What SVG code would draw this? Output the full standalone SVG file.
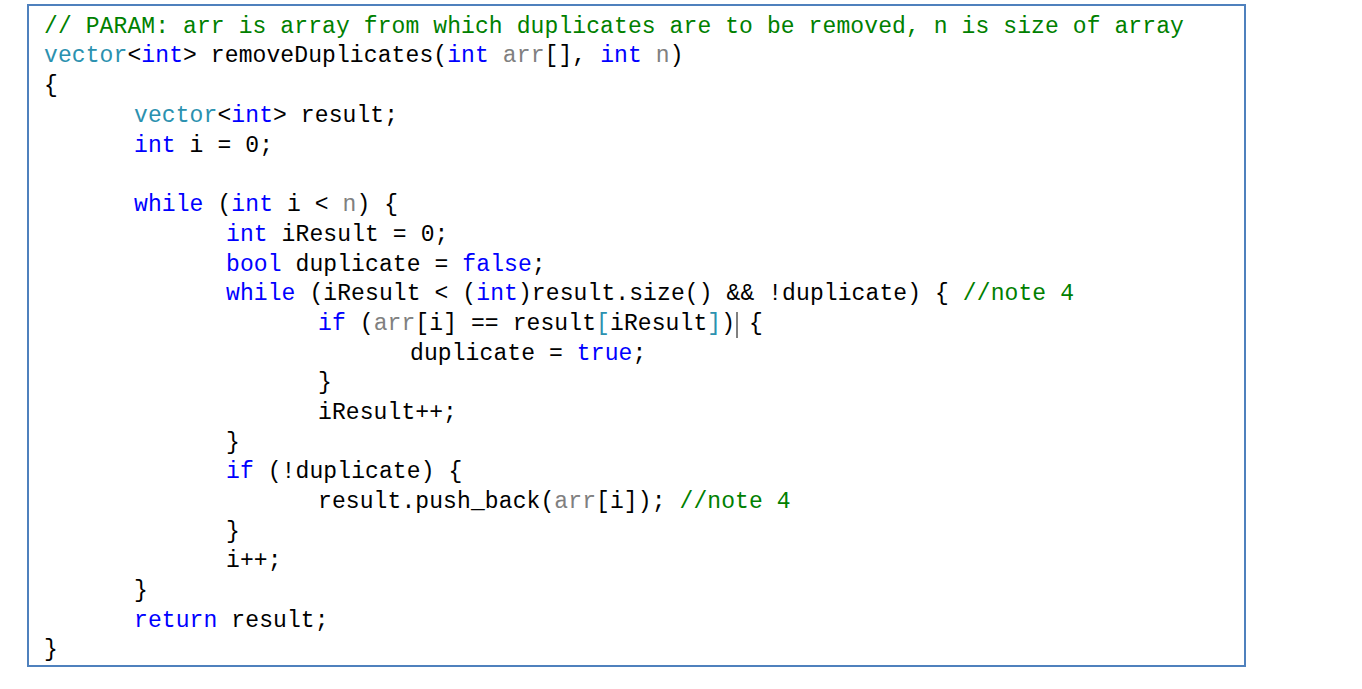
<svg xmlns="http://www.w3.org/2000/svg" width="1362" height="689" viewBox="0 0 1362 689">
<style>
text{font-family:"Liberation Mono","DejaVu Sans Mono",monospace;font-size:23px;letter-spacing:0.1px;fill:#000;white-space:pre}
.c{fill:#008000}.k{fill:#0000ff}.t{fill:#2b91af}.p{fill:#808080}
</style>
<rect width="1362" height="689" fill="#fff"/>
<g id="code">
<rect x="28" y="5" width="1217" height="661" fill="#fff" stroke="#4f81bd" stroke-width="2"/>
<text x="44" y="33" class="c">// PARAM: arr is array from which duplicates are to be removed, n is size of array</text>
<text x="44" y="62"><tspan class="t">vector</tspan>&lt;<tspan class="k">int</tspan>&gt; removeDuplicates(<tspan class="k">int</tspan> <tspan class="p">arr</tspan>[], <tspan class="k">int</tspan> <tspan class="p">n</tspan>)</text>
<text x="44" y="92">{</text>
<text x="134" y="122"><tspan class="t">vector</tspan>&lt;<tspan class="k">int</tspan>&gt; result;</text>
<text x="134" y="152"><tspan class="k">int</tspan> i = 0;</text>
<text x="134" y="211"><tspan class="k">while</tspan> (<tspan class="k">int</tspan> i &lt; <tspan class="p">n</tspan>) {</text>
<text x="226" y="241"><tspan class="k">int</tspan> iResult = 0;</text>
<text x="226" y="271"><tspan class="k">bool</tspan> duplicate = <tspan class="k">false</tspan>;</text>
<text x="226" y="300"><tspan class="k">while</tspan> (iResult &lt; (<tspan class="k">int</tspan>)result.size() &amp;&amp; !duplicate) { <tspan class="c">//note 4</tspan></text>
<text x="318" y="330"><tspan class="k">if</tspan> (<tspan class="p">arr</tspan>[i] == result<tspan class="t">[</tspan>iResult<tspan class="t">]</tspan>) {</text>
<line x1="737" y1="312" x2="737" y2="338" stroke="#000" stroke-width="1"/>
<text x="410" y="360">duplicate = <tspan class="k">true</tspan>;</text>
<text x="318" y="389">}</text>
<text x="318" y="419">iResult++;</text>
<text x="226" y="449">}</text>
<text x="226" y="478"><tspan class="k">if</tspan> (!duplicate) {</text>
<text x="318" y="508">result.push_back(<tspan class="p">arr</tspan>[i]); <tspan class="c">//note 4</tspan></text>
<text x="226" y="538">}</text>
<text x="226" y="567">i++;</text>
<text x="134" y="597">}</text>
<text x="134" y="627"><tspan class="k">return</tspan> result;</text>
<text x="44" y="656">}</text>
</g>
</svg>
